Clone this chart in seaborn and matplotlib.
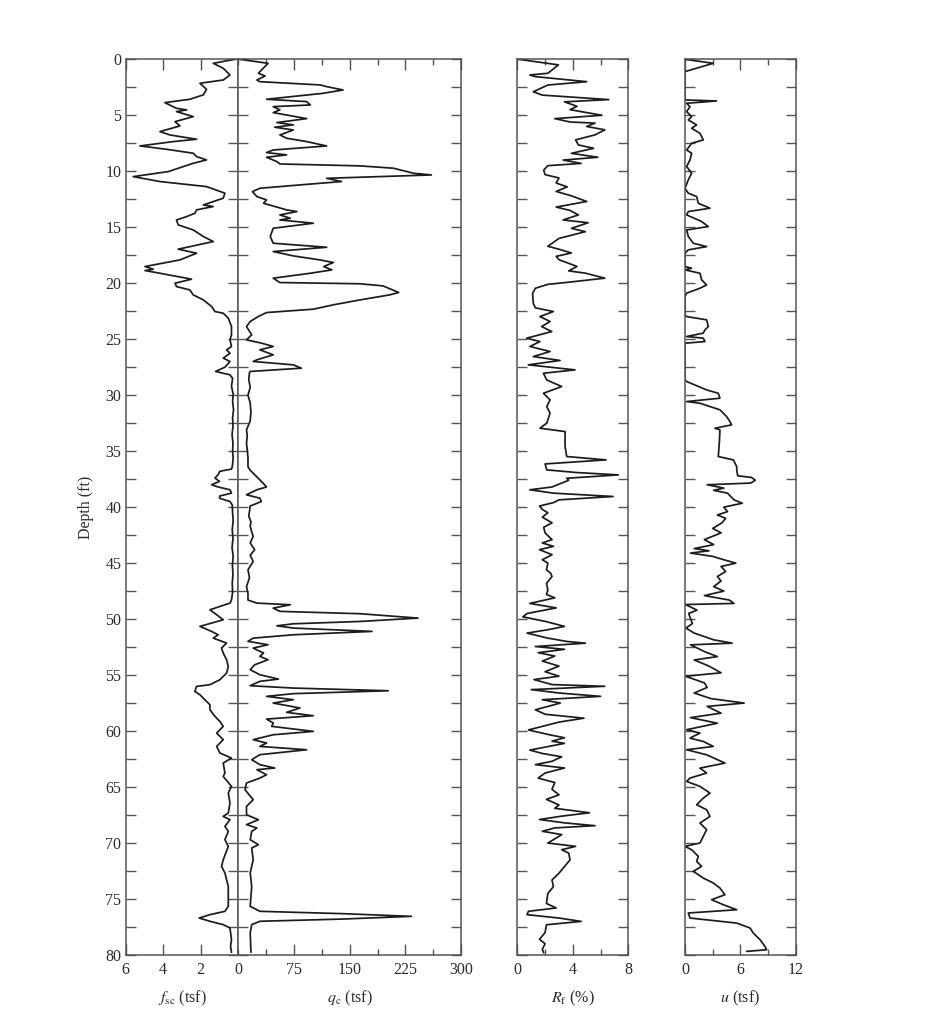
import matplotlib
matplotlib.use("Agg")
import matplotlib.pyplot as plt
from matplotlib.ticker import MultipleLocator
import seaborn as sns

# ---------------- data ----------------
fsc_depth = [0, 0.36, 0.8, 1.25, 1.4, 1.85, 2.14, 2.68, 3.18, 3.57, 3.87, 4.38, 4.52, 4.67, 5.12,
             5.57, 5.95, 6.46, 6.76, 7.14, 7.35, 7.74, 8.04, 8.39, 8.69, 8.99, 9.29, 10.03, 10.48,
             10.92, 11.37, 11.96, 12.41, 13.01, 13.15, 13.45, 13.75, 14.05, 14.35, 14.79, 15.24,
             15.83, 16.28, 16.73, 16.96, 17.32, 17.92, 18.51, 18.75, 18.87, 19.11, 19.64, 20.0,
             20.3, 20.6, 21.04, 21.49, 22.08, 22.53, 22.68, 23.12, 23.87, 24.61, 25.06, 25.65,
             25.95, 26.25, 26.69, 26.99, 27.5, 27.88, 28.18, 28.5, 29.2, 29.9, 30.6, 31.3, 32.0,
             32.8, 33.5, 34.3, 35.0, 35.7, 36.4, 36.6, 36.8, 37.1, 37.4, 37.7, 38.0, 38.2, 38.45,
             38.75, 39.0, 39.2, 39.5, 39.8, 40.5, 41.2, 42.0, 42.8, 43.6, 44.4, 45.2, 46.0, 46.8,
             47.6, 48.3, 48.57, 48.87, 49.17, 49.61, 50.06, 50.36, 50.65, 51.1, 51.4, 51.7, 52.14,
             52.59, 53.03, 53.63, 54.23, 54.82, 55.42, 55.86, 56.01, 56.46, 56.76, 57.2, 57.65,
             58.09, 58.69, 59.14, 59.58, 60.18, 60.77, 61.37, 61.96, 62.41, 62.86, 63.75, 64.05,
             64.94, 65.54, 66.43, 67.32, 67.62, 67.92, 68.51, 68.96, 69.7, 70.3, 71.49, 72.08,
             72.68, 73.27, 73.87, 75.65, 76.1, 76.4, 76.7, 76.99, 77.29, 77.59, 78.63, 79.23, 79.76]
fsc_tsf = [0.18, 1.33, 0.8, 0.53, 0.44, 0.8, 2.04, 1.69, 1.86, 2.58, 3.91, 3.29, 2.75, 3.29, 2.4,
           3.37, 3.11, 4.17, 3.64, 2.22, 3.46, 5.24, 3.82, 2.4, 2.22, 1.69, 2.4, 3.73, 5.6,
           4.17, 1.69, 0.71, 0.8, 1.86, 1.33, 2.22, 2.31, 2.75, 3.29, 3.2, 2.4,
           1.86, 1.33, 2.58, 3.2, 2.22, 3.11, 4.97, 4.53, 4.97, 4.17, 2.49, 3.37,
           3.29, 2.58, 2.4, 1.86, 1.42, 1.24, 0.8, 0.53, 0.36, 0.36, 0.44, 0.36,
           0.62, 0.44, 0.8, 0.44, 0.71, 1.21, 0.44, 0.3, 0.36, 0.27, 0.3, 0.25, 0.3,
           0.28, 0.33, 0.28, 0.3, 0.27, 0.32, 0.36, 0.98, 1.07, 1.24, 1.0, 1.42, 1.07, 0.44,
           0.36, 0.98, 1.0, 0.44, 0.32, 0.3, 0.27, 0.32, 0.28, 0.33, 0.27, 0.31, 0.28, 0.32,
           0.3, 0.36, 0.44, 0.98, 1.51, 1.15, 0.8, 1.42, 2.04, 1.42, 1.07, 1.33, 0.62,
           0.89, 0.8, 0.62, 0.53, 0.62, 0.98, 1.51, 2.22, 2.31, 2.04, 1.78, 1.51,
           1.51, 1.24, 0.98, 0.8, 1.15, 0.8, 1.15, 0.98, 0.36, 0.8, 0.71, 0.8,
           0.36, 0.53, 0.44, 0.53, 0.8, 0.44, 0.71, 0.53, 0.71, 0.53, 0.8, 0.89,
           0.71, 0.62, 0.53, 0.53, 0.71, 1.51, 2.08, 1.51, 0.8, 0.44, 0.36, 0.41, 0.36]

qc_depth = [0, 0.36, 1.25, 1.49, 1.85, 2.0, 2.29, 2.44, 2.74, 3.04, 3.57, 3.78, 4.08, 4.23, 4.52,
            4.76, 5.3, 5.65, 5.86, 6.07, 6.31, 6.76, 7.05, 7.35, 7.74, 8.1, 8.33, 8.54, 8.75,
            9.14, 9.35, 9.52, 9.73, 10.18, 10.33, 10.63, 10.92, 11.22, 11.52, 11.82, 12.26,
            12.56, 12.86, 13.45, 13.6, 13.9, 14.2, 14.35, 14.64, 15.09, 15.83, 16.43, 16.79,
            17.17, 17.56, 17.92, 18.15, 18.51, 18.81, 19.11, 19.55, 19.94, 20.05, 20.24, 20.44,
            20.83, 21.04, 21.49, 21.93, 22.32, 22.62, 22.97, 23.42, 23.87, 24.61, 25.06, 25.35,
            25.65, 25.95, 26.4, 26.84, 26.99, 27.29, 27.59, 27.88, 28.0, 28.6, 29.3, 30.0, 30.7,
            31.5, 32.3, 33.1, 33.6, 34.3, 34.9, 35.6, 36.4, 36.7, 37.3, 37.9, 38.2, 38.45, 38.9,
            39.2, 39.5, 39.9, 40.4, 40.8, 41.3, 41.7, 42.2, 42.6, 43.2, 43.8, 44.3, 44.85, 45.6,
            46.3, 47.1, 47.7, 48.3, 48.57, 48.72,
            49.02, 49.31, 49.52, 49.91, 50.21, 50.42, 50.6, 50.8, 51.1, 51.4, 51.7, 51.99,
            52.29, 52.59, 53.03, 53.33, 53.63, 54.08, 54.52, 54.97, 55.36, 55.56, 55.95, 56.16,
            56.4, 56.66, 56.9, 57.2, 57.5, 57.94, 58.33, 58.63, 58.93, 59.28, 59.58, 60.03,
            60.33, 60.77, 61.07, 61.37, 61.67, 62.11, 62.56, 63.0, 63.3, 63.45, 63.9, 64.2,
            64.64, 65.24, 66.13, 66.73, 67.47, 67.92, 68.36, 68.66, 68.96, 69.7, 70.15, 70.45,
            71.49, 72.68, 73.87, 75.65, 76.1, 76.31, 76.55, 76.79, 76.99, 77.29, 78.04, 79.76]
qc_tsf = [2, 40, 27, 36, 25, 29, 110, 119, 141, 114, 38, 92, 97, 47, 56,
          47, 92, 52, 74, 49, 74, 56, 65, 92, 119, 47, 38, 65, 38,
          52, 56, 164, 209, 236, 260, 119, 139, 83, 29, 19, 25,
          38, 34, 65, 79, 56, 70, 56, 101, 47, 43, 47, 119,
          47, 74, 110, 128, 115, 126, 97, 47, 56, 164, 195, 202,
          216, 204, 164, 128, 101, 38, 27, 16, 11, 18, 11, 31,
          47, 29, 47, 25, 20, 74, 85, 16, 15, 14, 16, 13, 16,
          17, 16, 11, 12, 11, 12, 13, 13, 16, 25, 34, 38, 25, 11,
          29, 31, 16, 15, 14, 17, 16, 18, 20, 16, 22, 16, 20, 13,
          15, 11, 13, 13, 25, 70,
          47, 56, 164, 242, 164, 74, 52, 74, 180, 74, 20, 13,
          40, 20, 34, 29, 40, 22, 16, 29, 54, 29, 16, 74,
          202, 74, 38, 74, 47, 83, 65, 101, 38, 47, 45, 101,
          47, 20, 38, 29, 92, 29, 18, 29, 49, 25, 38, 29,
          11, 9, 20, 11, 11, 27, 11, 25, 18, 16, 27, 18,
          20, 16, 18, 16, 29, 141, 233, 141, 29, 18, 16, 17]

rf_depth = [0.0, 0.5, 1.25, 1.4, 1.55, 2.0, 2.3, 2.9, 3.2, 3.6, 3.8, 4.2, 4.5, 5.0, 5.3, 5.6,
            5.7, 6.0, 6.3, 6.75, 7.2, 7.65, 7.95, 8.4, 8.75, 9.0, 9.3, 9.5, 9.9, 10.3, 10.6,
            11.05, 11.4, 11.8, 12.2, 12.7, 13.2, 13.5, 13.9, 14.35, 14.6, 15.1, 15.4, 16.0,
            16.7, 17.0, 17.3, 17.6, 17.9, 18.5, 18.9, 19.1, 19.55, 19.95, 20.1, 20.45, 20.9,
            21.8, 22.2, 22.53, 22.98, 23.42, 23.87, 24.32, 24.91, 25.21, 25.65, 26.1, 26.55,
            26.9, 27.29, 27.74, 28.04, 28.64, 29.23, 29.83, 30.42, 31.02, 31.61, 32.5, 32.95,
            33.25, 34.59, 35.48, 35.78, 36.14, 36.67, 36.91, 37.12, 37.42, 37.6, 38.2, 38.45,
            38.75, 39.05, 39.35, 39.6, 39.9, 40.2, 40.5, 40.9, 41.4, 41.8, 42.3, 42.9, 43.2,
            43.5, 43.8, 44.25, 44.7, 45.0, 45.6, 45.9, 46.2, 46.8, 47.4, 47.8, 48.1, 48.6,
            49.0, 49.5, 49.8, 50.2, 50.65, 50.95, 51.25, 51.7, 52.0, 52.15, 52.45, 52.7, 53.0,
            53.3, 53.75, 54.2, 54.7, 55.1, 55.4, 55.85, 56.0, 56.3, 56.6, 56.9, 57.2, 57.5,
            58.1, 58.5, 58.85, 59.2, 59.9, 60.3, 60.6, 60.9, 61.1, 61.7, 62.0, 62.3, 62.7,
            63.0, 63.3, 63.75, 64.2, 64.6, 65.2, 65.7, 66.1, 66.6, 66.9, 67.3, 67.6, 67.9,
            68.2, 68.45, 68.65, 68.95, 69.25, 70.0, 70.3, 70.6, 70.9, 71.5, 72.1, 72.7, 73.3,
            73.9, 74.5, 75.4, 75.8, 76.1, 76.4, 76.7, 77.0, 77.3, 78.0, 78.6, 79.0, 79.5, 79.8]
rf_pct = [0.1, 2.96, 2.2, 0.9, 1.3, 5.0, 2.2, 1.15, 1.8, 6.6, 3.4, 4.3, 3.8, 6.1, 2.7, 3.8,
          5.6, 5.0, 6.3, 5.6, 4.2, 4.4, 5.5, 3.9, 5.8, 3.3, 4.6, 2.2, 1.9, 2.0, 3.0,
          2.8, 3.6, 2.8, 3.9, 5.0, 2.8, 3.8, 4.4, 3.3, 5.1, 3.9, 4.9, 3.0,
          2.2, 3.1, 3.9, 2.8, 3.0, 4.3, 3.7, 4.9, 6.3, 3.4, 2.2, 1.3, 1.1,
          1.15, 1.3, 2.6, 1.63, 2.36, 1.75, 2.48, 0.67, 1.63, 0.91, 2.36, 1.15,
          3.08, 0.79, 4.16, 1.88, 2.12, 3.2, 1.88, 2.36, 2.12, 2.36, 2.12, 1.63,
          3.44, 3.44, 3.56, 6.39, 2.0, 2.12, 4.28, 7.28, 3.56, 3.7, 2.5, 0.9,
          2.6, 6.9, 3.0, 2.6, 1.6, 1.8, 2.2, 1.8, 2.5, 1.9, 2.0, 2.5, 1.8,
          2.6, 1.6, 2.5, 1.8, 2.2, 2.1, 2.4, 2.5, 2.1, 2.2, 2.1, 2.7, 0.9,
          2.8, 0.7, 0.4, 2.0, 3.4, 2.2, 0.7, 2.2, 3.6, 4.9, 1.3, 3.4, 1.5,
          2.7, 1.8, 3.0, 2.0, 3.0, 1.2, 2.5, 6.3, 1.0, 3.0, 6.0, 1.8, 3.1,
          1.3, 2.0, 4.8, 3.0, 0.8, 2.2, 3.4, 2.5, 3.4, 0.9, 1.8, 3.2, 2.5,
          1.3, 3.4, 2.0, 1.5, 2.7, 2.5, 3.0, 2.1, 3.0, 2.7, 5.2, 3.2, 1.6,
          3.4, 5.6, 2.7, 1.8, 3.2, 2.2, 4.2, 3.2, 3.7, 3.8, 3.4, 3.0, 2.5,
          2.6, 2.2, 2.1, 2.8, 0.8, 0.7, 3.0, 4.6, 2.1, 2.0, 1.6, 2.0, 1.8, 1.9]

u_depth = [0, 0.36, 1.1, 3.63, 3.72, 3.93, 4.23, 4.67, 5.12, 5.42, 5.86, 6.16, 6.61, 7.2, 7.5,
           8.1, 8.39, 8.99, 9.58, 10.18, 10.77, 11.52, 11.96, 12.26, 12.86, 13.3, 13.6, 13.9,
           14.49, 14.94, 15.24, 15.83, 16.43, 16.73, 17.02, 17.32, 18.51, 18.66, 18.81, 19.11,
           19.7, 20.15, 20.45, 20.89, 21.19, 22.83, 22.98, 23.27, 23.87, 24.17, 24.46, 24.76,
           24.91, 25.21, 25.36, 28.64, 28.78, 29.53, 29.83, 30.27, 30.57, 30.72, 31.31, 31.91,
           32.36, 32.65, 32.95, 33.1, 34.29, 35.48, 35.78, 36.37, 36.7, 37.2, 37.35, 37.6,
           37.85, 38.0, 38.3, 38.5, 38.75, 39.35, 39.65, 40.0, 40.4, 40.7, 41.0, 41.4, 41.9,
           42.3, 42.9, 43.35, 43.7, 43.9, 44.1, 44.4, 44.7, 45.0, 45.3, 45.75, 46.2, 46.6,
           47.1, 47.5, 47.9, 48.3, 48.6, 48.7, 49.2, 49.5, 50.4, 50.8, 51.25, 51.85, 52.15,
           52.3, 52.9, 53.35, 53.65, 54.2, 54.8, 55.1, 55.7, 56.1, 56.6, 57.1, 57.5, 57.8,
           58.4, 58.8, 59.3,
           59.44, 59.88, 60.18, 60.63, 60.93, 61.37, 61.67, 62.12, 62.86, 63.31, 63.75, 64.2,
           64.5, 64.94, 65.54, 65.99, 66.58, 67.03, 67.62, 68.22, 68.81, 69.41, 70.0, 70.3,
           70.6, 71.19, 71.64, 72.08, 72.53, 73.13, 73.57, 74.02, 74.62, 75.06, 75.51, 75.96,
           76.25, 76.7, 77.15, 77.59, 78.04, 78.63, 79.23, 79.53, 79.68]
u_tsf = [0, 3.06, 0, 0, 3.42, 0.18, 0.54, 0.18, 0.72, 0.36, 1.26, 0.72, 1.62, 1.98, 0.72,
         0.18, 0.72, 0.54, 0.18, 0.72, 0.36, 0, 0.36, 1.26, 1.44, 2.7, 0.36, 0.18,
         1.8, 2.52, 0.18, 0.36, 0.9, 2.34, 0.36, 0, 0, 0.72, 0, 1.62,
         1.8, 2.34, 1.62, 0.18, 0, 0, 0.18, 2.34, 2.52, 2.16, 1.98, 0.18,
         1.98, 2.16, 0, 0, 0.18, 2.34, 3.6, 3.78, 0.18, 1.62, 3.78, 4.5,
         4.86, 5.05, 3.24, 3.78, 3.71, 3.6, 5.23, 5.59, 5.6, 5.7, 7.2, 7.6,
         7.1, 2.4, 4.2, 3.1, 4.6, 5.3, 6.2, 4.2, 4.6, 3.5, 4.4, 4.0, 3.0,
         3.9, 2.1, 3.1, 1.0, 2.6, 0.6, 3.0, 4.2, 5.5, 3.9, 4.4, 3.5, 3.9,
         3.1, 4.2, 2.1, 4.8, 5.3, 0.05, 1.3, 0.4, 0.8, 0.1, 1.0, 3.1, 5.1,
         0.6, 2.1, 3.5, 1.0, 2.6, 3.9, 0.05, 2.1, 2.4, 1.0, 2.8, 6.4, 2.4,
         3.9, 0.6, 3.5,
         2.7, 0.18, 1.62, 0.54, 1.98, 3.06, 0.18, 2.34, 4.32, 1.62, 2.34, 0.54,
         0.18, 1.62, 2.7, 1.98, 1.26, 2.34, 2.7, 1.62, 2.34, 1.98, 1.62, 0,
         0.72, 1.44, 1.26, 1.8, 0.9, 1.98, 3.06, 3.78, 4.32, 2.88, 4.14, 5.59,
         0.36, 0.54, 5.59, 7.03, 7.39, 8.11, 8.65, 8.83, 6.67]

depth_ticks = [0, 5, 10, 15, 20, 25, 30, 35, 40, 45, 50, 55, 60, 65, 70, 75, 80]
fsc_ticks = [6, 4, 2, 0]
qc_ticks = [75, 150, 225, 300]
rf_ticks = [0, 4, 8]
u_ticks = [0, 6, 12]

# ---------------- style ----------------
sns.set_style("ticks")
plt.rcParams["font.family"] = ["Liberation Serif", "DejaVu Serif"]
plt.rcParams["mathtext.fontset"] = "stix"

FS = 11.5
TXT = "#2a2a2a"
LINE = "#1c1c1c"
SPINE = "#555555"

fig = plt.figure(figsize=(9.35, 10.24), dpi=100)
bottom, height = 0.0674, 0.8747
ax_f = fig.add_axes([0.1344, bottom, 0.1204, height])
ax_q = fig.add_axes([0.2549, bottom, 0.2382, height])
ax_r = fig.add_axes([0.5533, bottom, 0.1187, height])
ax_u = fig.add_axes([0.7326, bottom, 0.1187, height])

kw = dict(color=LINE, linewidth=1.25, estimator=None, sort=False, orient="y")
sns.lineplot(x=fsc_tsf, y=fsc_depth, ax=ax_f, **kw)
sns.lineplot(x=qc_tsf, y=qc_depth, ax=ax_q, **kw)
sns.lineplot(x=rf_pct, y=rf_depth, ax=ax_r, **kw)
sns.lineplot(x=u_tsf, y=u_depth, ax=ax_u, **kw)

ax_f.set_xlim(6, 0)
ax_f.set_xticks(fsc_ticks)
ax_q.set_xlim(0, 300)
ax_q.set_xticks(qc_ticks)
ax_q.xaxis.set_minor_locator(MultipleLocator(37.5))
ax_r.set_xlim(0, 8)
ax_r.set_xticks(rf_ticks)
ax_r.xaxis.set_minor_locator(MultipleLocator(2))
ax_u.set_xlim(0, 12)
ax_u.set_xticks(u_ticks)
ax_u.xaxis.set_minor_locator(MultipleLocator(3))

for ax in (ax_f, ax_q, ax_r, ax_u):
    ax.set_ylim(80, 0)
    ax.set_yticks(depth_ticks)
    ax.yaxis.set_minor_locator(MultipleLocator(2.5))
    for s in ax.spines.values():
        s.set_visible(True)
        s.set_color(SPINE)
        s.set_linewidth(1.1)
    ax.tick_params(axis="both", which="both", direction="in", top=True, bottom=True,
                   left=True, right=True, color=SPINE, width=1.0,
                   labelsize=FS, labelcolor=TXT)
    ax.tick_params(axis="y", which="both", length=7.5, pad=3)
    ax.tick_params(axis="x", which="major", length=8, pad=5)
    ax.tick_params(axis="x", which="minor", length=4)
    ax.set_ylabel("")
    ax.set_facecolor("white")
    if ax is not ax_f:
        ax.tick_params(axis="y", which="both", labelleft=False)

ax_f.set_ylabel("Depth (ft)", fontsize=FS, color=TXT, labelpad=8)

ax_f.set_xlabel(r"$f_{\rm sc}$ (tsf)", fontsize=FS, color=TXT, labelpad=8)
ax_q.set_xlabel(r"$q_{\rm c}$ (tsf)", fontsize=FS, color=TXT, labelpad=8)
ax_r.set_xlabel(r"$R_{\rm f}$ (%)", fontsize=FS, color=TXT, labelpad=8)
ax_u.set_xlabel(r"$u$ (tsf)", fontsize=FS, color=TXT, labelpad=8)

fig.savefig("out.png", dpi=100, facecolor="white")
